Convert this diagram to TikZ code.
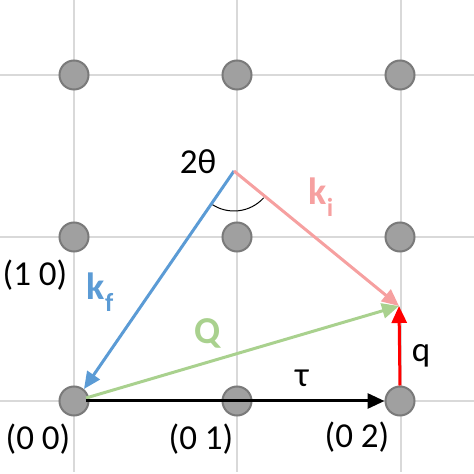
\documentclass[tikz,border=0pt]{standalone}
\usepackage{fontspec}
\setmainfont{Carlito}
\usetikzlibrary{arrows.meta}
\definecolor{gridc}{RGB}{217,217,217}
\definecolor{dotfill}{RGB}{160,160,160}
\definecolor{dotline}{RGB}{122,122,122}
\definecolor{kfblue}{RGB}{91,155,213}
\definecolor{kipink}{RGB}{246,160,160}
\definecolor{qgreen}{RGB}{169,209,142}
\definecolor{qred}{RGB}{255,0,0}
\tikzset{
  gridline/.style={draw=gridc, line width=1.6pt},
  latt/.style={circle, fill=dotfill, draw=dotline, line width=2pt, minimum size=29pt, inner sep=0pt},
  vec/.style={line width=3pt, -{Triangle[length=17pt,width=15pt]}},
  lbl/.style={font=\fontsize{35}{40}\selectfont, inner sep=0pt},
  blbl/.style={font=\fontsize{38}{42}\selectfont\bfseries, inner sep=0pt}
}
\begin{document}
\begin{tikzpicture}[x=1pt,y=1pt]
\useasboundingbox (0,0) rectangle (474,474);
% grid
\foreach \gx in {74,237,401} \draw[gridline] (\gx,2) -- (\gx,474);
\foreach \gy in {399,237,73} \draw[gridline] (0,\gy) -- (474,\gy);
% lattice points
\node[latt] (a20) at (74,399) {};
\node[latt] (a21) at (237,399) {};
\node[latt] (a22) at (400,399) {};
\node[latt] (a10) at (74,237) {};
\node[latt] (a11) at (237,237) {};
\node[latt] (a12) at (400,237) {};
\node[latt] (a00) at (74,73) {};
\node[latt] (a01) at (237,73) {};
\node[latt] (a02) at (400,73) {};
% key points
\coordinate (apex) at (234,303);
\coordinate (tip) at (399,168);
\coordinate (o) at (86,76);
\coordinate (otau) at (86,73);
\coordinate (kfend) at (84,85);
% angle arc
\draw[black, line width=1pt] (apex) ++(235:40) arc[start angle=235, end angle=318, radius=40];
% vectors
\draw[vec, kfblue] (apex) -- (kfend);
\draw[vec, kipink] (apex) -- (tip);
\draw[vec, qgreen] (o) -- (tip);
\draw[vec, black] (otau) -- (a02.west);
\draw[vec, qred] (a02.north) -- (tip);
% labels
\node[lbl] (theta) at (198,312) {2θ};
\node[blbl, text=kipink] (kil) at (321,277) {k\raisebox{-0.32em}{\fontsize{26}{30}\selectfont i}};
\node[blbl, text=kfblue] (kfl) at (100,182) {k\raisebox{-0.32em}{\fontsize{26}{30}\selectfont f}};
\node[blbl, text=qgreen] (Ql) at (208,141) {Q};
\node[lbl] (taul) at (302,96) {τ};
\node[lbl] (ql) at (421,118) {q};
\node[lbl] (l10) at (35,199) {(1 0)};
\node[lbl] (l00) at (38,35) {(0 0)};
\node[lbl] (l01) at (201,35) {(0 1)};
\node[lbl] (l02) at (357,37) {(0 2)};
\end{tikzpicture}
\end{document}
